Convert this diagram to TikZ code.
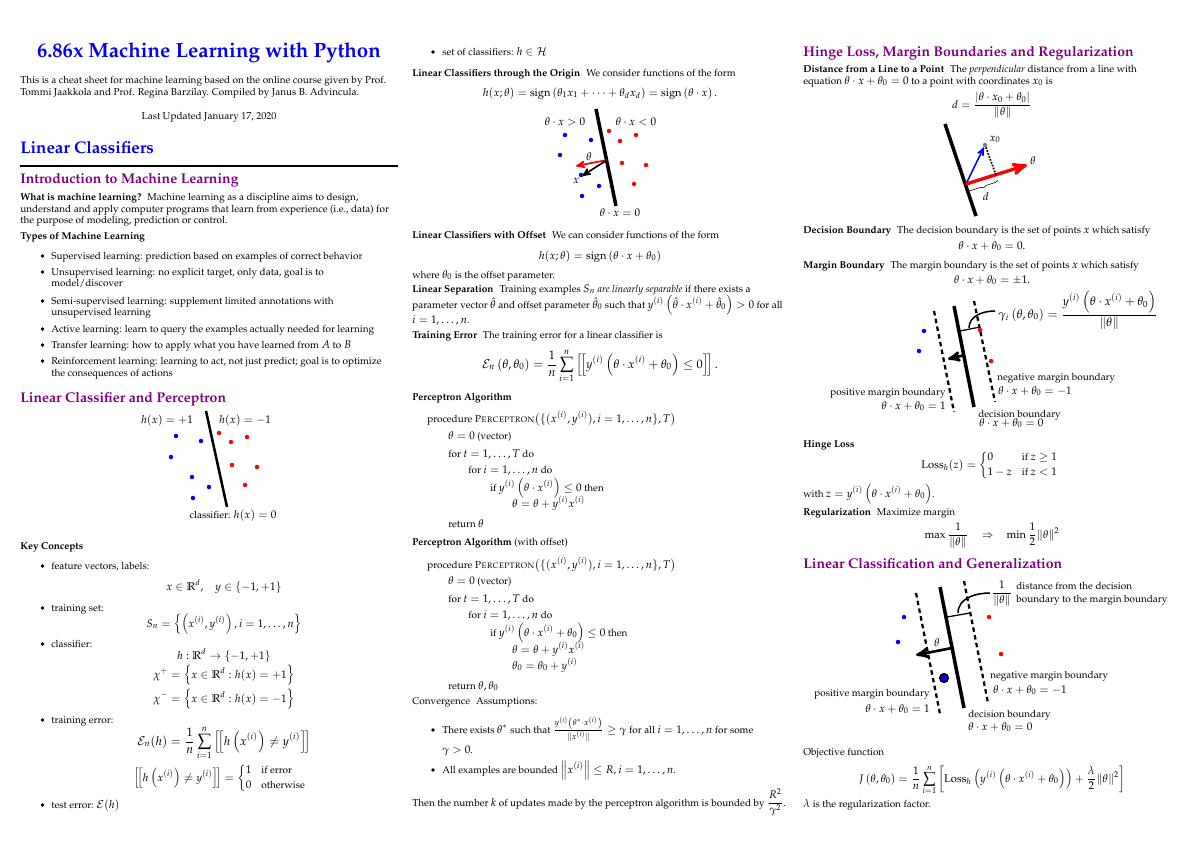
\documentclass[tikz,border=0pt]{standalone}
\usepackage[T1]{fontenc}
\usepackage{amsmath}
\usepackage{amssymb}
\usepackage{mathpazo}
\usetikzlibrary{arrows}
\usetikzlibrary{decorations.pathreplacing}
\definecolor{headblue}{RGB}{0,0,245}
\definecolor{headpurple}{RGB}{128,0,128}
\DeclareMathSizes{7.1}{7.9}{5.9}{5}
\DeclareMathSizes{7.7}{8.7}{6.4}{5.2}
\newcommand{\supi}{^{(i)}}
\newcommand{\runin}[1]{\textbf{#1}\hspace{0.6em}}
\tikzset{
  >=stealth',
  every node/.style = {inner sep = 0pt, font = \fontsize{7.1}{8.5}\selectfont},
  line/.style = {anchor = base west},
  eqn/.style = {anchor = base},
  wideeqn/.style = {font = \fontsize{7.7}{9}\selectfont},
  leftof/.style = {anchor = base east},
  maintitle/.style = {anchor = base, text = headblue, font = \fontsize{14.6}{17}\selectfont\bfseries},
  section/.style = {anchor = base west, text = headblue, font = \fontsize{12}{14}\selectfont\bfseries},
  subsection/.style = {anchor = base west, text = headpurple, font = \fontsize{10}{12}\selectfont\bfseries},
  itemdot/.style = {circle, fill = black, minimum size = 2.6},
  bluedot/.style = {circle, fill = blue, minimum size = 3.2},
  reddot/.style = {circle, fill = red, minimum size = 3.2},
  boundary/.style = {line width = 1.8pt},
  thickboundary/.style = {line width = 2.5pt},
  margin/.style = {line width = 1.6pt, dash pattern = on 3.2pt off 2.4pt},
}
\begin{document}
\begin{tikzpicture}[x = 0.025cm, y = -0.025cm]
  \useasboundingbox (0,0) rectangle (1200,849);

  % left column
  \node [maintitle] (title) at (209,57) {6.86x Machine Learning with Python};
  \node [line] (intro1) at (20,83) {This is a cheat sheet for machine learning based on the online course given by Prof.};
  \node [line] (intro2) at (20,95) {Tommi Jaakkola and Prof. Regina Barzilay. Compiled by Janus B. Advincula.};
  \node [eqn] (updated) at (209,119) {Last Updated January 17, 2020};
  \node [section] (linclass) at (20,153) {Linear Classifiers};
  \coordinate (ruleL) at (20,166);
  \coordinate (ruleR) at (398,166);
  \draw [line width = 1.1pt] (ruleL) -- (ruleR);
  \node [subsection] (mlintro) at (20,183) {Introduction to Machine Learning};
  \node [line] (what1) at (20,200) {\runin{What is machine learning?}Machine learning as a discipline aims to design,};
  \node [line] (what2) at (20,212) {understand and apply computer programs that learn from experience (i.e., data) for};
  \node [line] (what3) at (20,223) {the purpose of modeling, prediction or control.};
  \node [line] (types) at (20,239) {\textbf{Types of Machine Learning}};
  \foreach \y in {256,272,301,329,345,361,566,608,644,720,805}
    \node [itemdot] (dot\y) at (42.5,\y) {};
  \node [line] (sup) at (51,259) {Supervised learning: prediction based on examples of correct behavior};
  \node [line] (unsup1) at (51,275) {Unsupervised learning: no explicit target, only data, goal is to};
  \node [line] (unsup2) at (51,286) {model/discover};
  \node [line] (semi1) at (51,304) {Semi-supervised learning: supplement limited annotations with};
  \node [line] (semi2) at (51,315) {unsupervised learning};
  \node [line] (active) at (51,332) {Active learning: learn to query the examples actually needed for learning};
  \node [line] (transfer) at (51,348) {Transfer learning: how to apply what you have learned from $A$ to $B$};
  \node [line] (reinf1) at (51,364) {Reinforcement learning: learning to act, not just predict; goal is to optimize};
  \node [line] (reinf2) at (51,376) {the consequences of actions};
  \node [subsection] (percsec) at (20,402) {Linear Classifier and Perceptron};

  % classifier picture
  \coordinate (sepA) at (206,411);
  \coordinate (sepB) at (227,507);
  \draw [boundary] (sepA) -- (sepB);
  \node [eqn] (hplus) at (167,423) {$h(x) = +1$};
  \node [eqn] (hminus) at (245,423) {$h(x) = -1$};
  \foreach \x/\y in {176/436,201/441,171/457,192/477,209/487,193/498}
    \node [bluedot] (blue\x) at (\x,\y) {};
  \foreach \x/\y in {219/433,231/442,247/437,232/465,257/467,245/485}
    \node [reddot] (red\x) at (\x,\y) {};
  \node [eqn] (hzero) at (233,518) {classifier: $h(x) = 0$};

  \node [line] (key) at (20,549) {\textbf{Key Concepts}};
  \node [line] (feat) at (51,569) {feature vectors, labels:};
  \node [eqn] (feateq) at (224,590) {$x \in \mathbb{R}^d, \quad y \in \{-1,+1\}$};
  \node [line] (trainset) at (51,611) {training set:};
  \node [eqn] (trainseteq) at (224,627) {$\displaystyle S_n = \left\{ \left(x\supi, y\supi\right), i = 1, \dots, n \right\}$};
  \node [line] (classif) at (51,647) {classifier:};
  \node [eqn] (classifeq) at (224,659) {$h : \mathbb{R}^d \to \{-1,+1\}$};
  \node [eqn] (xplus) at (224,678) {$\displaystyle \chi^+ = \left\{ x \in \mathbb{R}^d : h(x) = +1 \right\}$};
  \node [eqn] (xminus) at (224,702) {$\displaystyle \chi^- = \left\{ x \in \mathbb{R}^d : h(x) = -1 \right\}$};
  \node [line] (trainerr) at (51,723) {training error:};
  \node [eqn, wideeqn] (trainerreq) at (224,745) {$\displaystyle \mathcal{E}_n(h) = \frac{1}{n} \sum_{i=1}^{n} \left[\!\left[ h\left(x\supi\right) \neq y\supi \right]\!\right]$};
  \node [eqn] (indic) at (220,781) {$\displaystyle \left[\!\left[ h\left(x\supi\right) \neq y\supi \right]\!\right] = \begin{cases} 1 & \text{if error} \\ 0 & \text{otherwise} \end{cases}$};
  \node [line] (testerr) at (51,808) {test error: $\mathcal{E}(h)$};

  % middle column
  \node [itemdot] (dotset) at (433,52) {};
  \node [line] (setclass) at (442,55) {set of classifiers: $h \in \mathcal{H}$};
  \node [line] (origin) at (412,76) {\runin{Linear Classifiers through the Origin}We consider functions of the form};
  \node [eqn] (origineq) at (600,96) {$h(x;\theta) = \operatorname{sign}\left(\theta_1 x_1 + \cdots + \theta_d x_d\right) = \operatorname{sign}\left(\theta \cdot x\right).$};

  % classifier through the origin
  \coordinate (orgA) at (596,109);
  \coordinate (orgB) at (616,206);
  \coordinate (orgC) at (607,160);
  \coordinate (orgTheta) at (576,166);
  \coordinate (orgX) at (582,176);
  \draw [thickboundary] (orgA) -- (orgB);
  \node [eqn] (pos) at (565,125) {$\theta \cdot x > 0$};
  \node [eqn] (neg) at (636,125) {$\theta \cdot x < 0$};
  \foreach \x/\y in {565/135,591/140,560/155,581/175,599/186,582/196}
    \node [bluedot] (blue\x) at (\x,\y) {};
  \foreach \x/\y in {609/131,620/141,636/135,622/163,646/165,634/184}
    \node [reddot] (red\x) at (\x,\y) {};
  \draw [->, red, line width = 1.2pt] (orgC) -- (orgTheta);
  \draw [->, black, line width = 1.2pt] (orgC) -- (orgX);
  \node [eqn] (thetalab) at (589,160) {$\theta$};
  \node [eqn] (xlab) at (576,183) {$x$};
  \node [eqn] (zero) at (620,216) {$\theta \cdot x = 0$};

  \node [line] (offset) at (412,238) {\runin{Linear Classifiers with Offset}We can consider functions of the form};
  \node [eqn] (offseteq) at (600,259) {$h(x;\theta) = \operatorname{sign}\left(\theta \cdot x + \theta_0\right)$};
  \node [line] (where) at (412,278) {where $\theta_0$ is the offset parameter.};
  \node [line] (sepa1) at (412,292) {\runin{Linear Separation}Training examples $S_n$ \emph{are linearly separable} if there exists a};
  \node [line] (sepa2) at (412,308) {parameter vector $\hat\theta$ and offset parameter $\hat\theta_0$ such that $y\supi\left(\hat\theta\cdot x\supi + \hat\theta_0\right) > 0$ for all};
  \node [line] (sepa3) at (412,323) {$i = 1, \dots, n$.};
  \node [line] (trerr) at (412,338) {\runin{Training Error}The training error for a linear classifier is};
  \node [eqn, wideeqn] (trerreq) at (600,368) {$\displaystyle \mathcal{E}_n\left(\theta,\theta_0\right) = \frac{1}{n} \sum_{i=1}^{n} \left[\!\left[ y\supi\left(\theta \cdot x\supi + \theta_0\right) \leq 0 \right]\!\right].$};

  \node [line] (algo) at (412,400) {\textbf{Perceptron Algorithm}};
  \node [line] (proc) at (427,422) {procedure \textsc{Perceptron}$\big(\{(x\supi,y\supi), i = 1,\dots,n\}, T\big)$};
  \node [line] (init) at (448,439) {$\theta = 0$ (vector)};
  \node [line] (fort) at (448,457) {for $t = 1,\dots,T$ do};
  \node [line] (fori) at (468,473) {for $i = 1,\dots,n$ do};
  \node [line] (ifa) at (490,491) {if $y\supi\left(\theta \cdot x\supi\right) \leq 0$ then};
  \node [line] (upd) at (512,507) {$\theta = \theta + y\supi x\supi$};
  \node [line] (ret) at (448,527) {return $\theta$};
  \node [line] (algob) at (412,545) {\textbf{Perceptron Algorithm} (with offset)};
  \node [line] (procb) at (427,568) {procedure \textsc{Perceptron}$\big(\{(x\supi,y\supi), i = 1,\dots,n\}, T\big)$};
  \node [line] (initb) at (448,584) {$\theta = 0$ (vector)};
  \node [line] (fortb) at (448,602) {for $t = 1,\dots,T$ do};
  \node [line] (forib) at (468,618) {for $i = 1,\dots,n$ do};
  \node [line] (ifb) at (490,636) {if $y\supi\left(\theta \cdot x\supi + \theta_0\right) \leq 0$ then};
  \node [line] (updb) at (512,653) {$\theta = \theta + y\supi x\supi$};
  \node [line] (updc) at (512,669) {$\theta_0 = \theta_0 + y\supi$};
  \node [line] (retb) at (448,689) {return $\theta, \theta_0$};
  \node [line] (conv) at (412,704) {Convergence\hspace{0.6em}Assumptions:};
  \node [itemdot] (dotconv) at (433,730) {};
  \node [line] (conva) at (442,733) {There exists $\theta^*$ such that $\frac{y\supi\left(\theta^*\cdot x\supi\right)}{\|x\supi\|} \geq \gamma$ for all $i = 1,\dots,n$ for some};
  \node [line] (convb) at (442,753) {$\gamma > 0$.};
  \node [itemdot] (dotall) at (433,770) {};
  \node [line] (allex) at (442,773) {All examples are bounded $\left\|x\supi\right\| \leq R$, $i = 1,\dots,n$.};
  \node [line] (updates) at (412,806) {Then the number $k$ of updates made by the perceptron algorithm is bounded by $\displaystyle\frac{R^2}{\gamma^2}$.};

  % right column
  \node [subsection] (hingesec) at (803,56) {Hinge Loss, Margin Boundaries and Regularization};
  \node [line] (dist1) at (803,72) {\runin{Distance from a Line to a Point}The \emph{perpendicular} distance from a line with};
  \node [line] (dist2) at (803,84) {equation $\theta \cdot x + \theta_0 = 0$ to a point with coordinates $x_0$ is};
  \node [eqn] (disteq) at (992,108) {$\displaystyle d = \frac{\left|\theta \cdot x_0 + \theta_0\right|}{\|\theta\|}$};

  % distance picture
  \coordinate (distA) at (945,124);
  \coordinate (distB) at (976,216);
  \coordinate (distO) at (966,184);
  \coordinate (distT) at (1027,165);
  \coordinate (distF) at (996,175);
  \coordinate (braceA) at (968,190);
  \coordinate (braceB) at (998,180);
  \draw [thickboundary] (distA) -- (distB);
  \node [circle, fill = gray, minimum size = 3.2] (pointx) at (985,145) {};
  \draw [->, blue, line width = 1.1pt] (distO) -- (pointx);
  \draw [->, red, line width = 2.4pt] (distO) -- (distT);
  \draw [densely dotted, line width = 1.2pt] (pointx) -- (distF);
  \draw [decorate, decoration = {brace, amplitude = 2pt}, line width = 0.4pt] (braceB) -- (braceA);
  \node [eqn] (xzero) at (995,141) {$x_0$};
  \node [eqn] (thetab) at (1033,164) {$\theta$};
  \node [eqn] (dlab) at (986,200) {$d$};

  \node [line] (dec) at (803,233) {\runin{Decision Boundary}The decision boundary is the set of points $x$ which satisfy};
  \node [eqn] (deceq) at (992,249) {$\theta \cdot x + \theta_0 = 0.$};
  \node [line] (mar) at (803,268) {\runin{Margin Boundary}The margin boundary is the set of points $x$ which satisfy};
  \node [eqn] (mareq) at (992,283) {$\theta \cdot x + \theta_0 = \pm 1.$};

  % margin picture
  \coordinate (decA) at (954,306);
  \coordinate (decB) at (974,407);
  \coordinate (negA) at (974,301);
  \coordinate (negB) at (995,402);
  \coordinate (posA) at (934,311);
  \coordinate (posB) at (954,412);
  \coordinate (normA) at (965,355);
  \coordinate (normB) at (948,359);
  \coordinate (perpA) at (960,331);
  \coordinate (perpB) at (980,327);
  \coordinate (curveA) at (969,328);
  \coordinate (curveB) at (995,311);
  \draw [thickboundary] (decA) -- (decB);
  \draw [margin] (negA) -- (negB);
  \draw [margin] (posA) -- (posB);
  \foreach \x/\y in {924/331,919/351}
    \node [bluedot] (blue\x) at (\x,\y) {};
  \foreach \x/\y in {980/330,991/361}
    \node [reddot] (red\x) at (\x,\y) {};
  \draw [->, line width = 1.9pt] (normA) -- (normB);
  \draw [line width = 0.9pt] (perpA) -- (perpB);
  \draw [line width = 1.1pt] (curveA) to [out = 90, in = 180] (curveB);
  \node [line, wideeqn] (gamma) at (998,318) {$\displaystyle \gamma_i\left(\theta,\theta_0\right) = \frac{y\supi\left(\theta \cdot x\supi + \theta_0\right)}{\|\theta\|}$};
  \node [line] (negb) at (997,380) {negative margin boundary};
  \node [line] (nega) at (998,394) {$\theta \cdot x + \theta_0 = -1$};
  \node [leftof] (posb) at (946,395) {positive margin boundary};
  \node [leftof] (posa) at (946,409) {$\theta \cdot x + \theta_0 = 1$};
  \node [line] (decb) at (978,417) {decision boundary};
  \node [line] (deca) at (979,426) {$\theta \cdot x + \theta_0 = 0$};

  \node [line] (hinge) at (803,447) {\textbf{Hinge Loss}};
  \node [eqn] (hingeeq) at (990,468) {$\displaystyle \operatorname{Loss}_h(z) = \begin{cases} 0 & \text{if } z \geq 1 \\ 1 - z & \text{if } z < 1 \end{cases}$};
  \node [line] (withz) at (803,497) {with $z = y\supi\left(\theta \cdot x\supi + \theta_0\right)$.};
  \node [line] (regul) at (803,515) {\runin{Regularization}Maximize margin};
  \node [eqn] (regeq) at (992,538) {$\displaystyle \max\frac{1}{\|\theta\|} \quad\Rightarrow\quad \min\frac{1}{2}\|\theta\|^2$};
  \node [subsection] (gensec) at (803,568) {Linear Classification and Generalization};

  % generalization picture
  \coordinate (genA) at (940,587);
  \coordinate (genB) at (964,708);
  \coordinate (gnegA) at (964,581);
  \coordinate (gnegB) at (988,703);
  \coordinate (gposA) at (916,593);
  \coordinate (gposB) at (940,714);
  \coordinate (gnormA) at (952,648);
  \coordinate (gnormB) at (916,655);
  \coordinate (gperpA) at (947,617);
  \coordinate (gperpB) at (970,613);
  \coordinate (gcurveA) at (958,613);
  \coordinate (gcurveB) at (990,593);
  \draw [thickboundary] (genA) -- (genB);
  \draw [margin] (gnegA) -- (gnegB);
  \draw [margin] (gposA) -- (gposB);
  \foreach \x/\y in {904/617,898/642}
    \node [bluedot] (blue\x) at (\x,\y) {};
  \foreach \x/\y in {989/617,1001/654}
    \node [reddot] (red\x) at (\x,\y) {};
  \node [circle, fill = blue, draw = black, line width = 1.2pt, minimum size = 6] (bigdot) at (944,678) {};
  \draw [->, line width = 1.9pt] (gnormA) -- (gnormB);
  \draw [line width = 0.9pt] (gperpA) -- (gperpB);
  \draw [line width = 1.1pt] (gcurveA) to [out = 90, in = 180] (gcurveB);
  \node [eqn] (gtheta) at (937,646) {$\theta$};
  \node [eqn] (onefrac) at (1002,596) {$\displaystyle\frac{1}{\|\theta\|}$};
  \node [line] (disttxt1) at (1016,589) {distance from the decision};
  \node [line] (disttxt2) at (1016,602) {boundary to the margin boundary};
  \node [line] (gnegb) at (990,678) {negative margin boundary};
  \node [line] (gnega) at (993,693) {$\theta \cdot x + \theta_0 = -1$};
  \node [leftof] (gposb) at (930,696) {positive margin boundary};
  \node [leftof] (gposa) at (930,712) {$\theta \cdot x + \theta_0 = 1$};
  \node [line] (gdecb) at (968,717) {decision boundary};
  \node [line] (gdeca) at (968,730) {$\theta \cdot x + \theta_0 = 0$};

  \node [line] (objective) at (803,755) {Objective function};
  \node [eqn] (objeq) at (992,782) {$\displaystyle J\left(\theta,\theta_0\right) = \frac{1}{n} \sum_{i=1}^{n} \left[ \operatorname{Loss}_h\left(y\supi\left(\theta \cdot x\supi + \theta_0\right)\right) + \frac{\lambda}{2}\|\theta\|^2 \right]$};
  \node [line] (lambda) at (803,807) {$\lambda$ is the regularization factor.};
\end{tikzpicture}
\end{document}
